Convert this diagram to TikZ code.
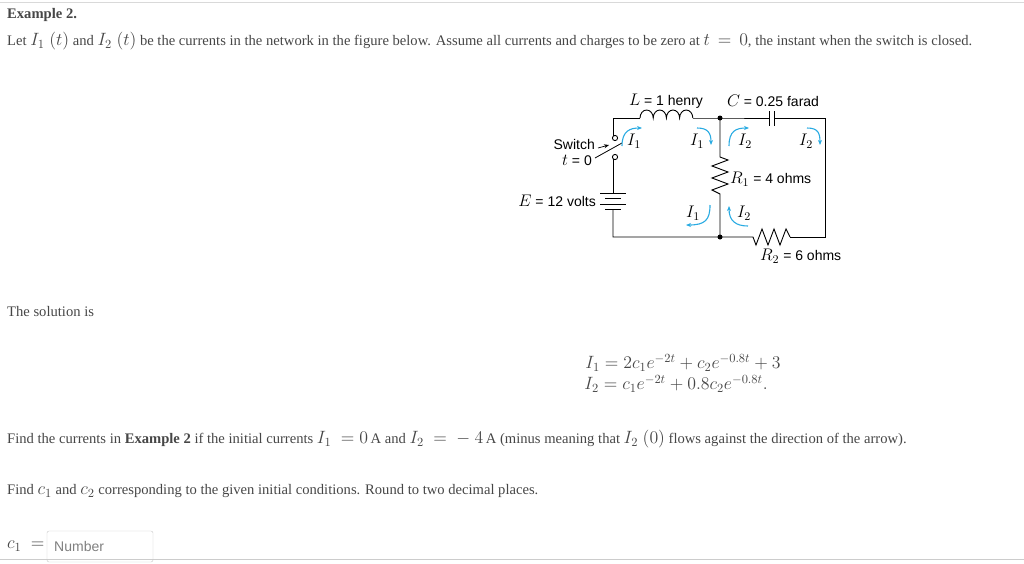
\RequirePackage{fix-cm}
\documentclass[tikz,border=0pt]{standalone}
\usepackage{fontspec}
\setmainfont{Liberation Serif}
\setsansfont{Liberation Sans}
\usetikzlibrary{arrows.meta}
\definecolor{cblue}{RGB}{41,171,226}
\definecolor{txt}{RGB}{70,70,70}
\newcommand{\mm}[1]{\scalebox{1.22}{$#1$}}
\newcommand{\cm}[1]{\scalebox{1.2}{$#1$}}
\begin{document}
\begin{tikzpicture}[x=1pt,y=-1pt,
  tx/.style={anchor=west,inner sep=0,font=\fontsize{14.6}{18}\selectfont,text=txt},
  lb/.style={inner sep=0,font=\sffamily\fontsize{14}{16}\selectfont},
  wire/.style={line width=0.9pt},
  cur/.style={cblue,line width=1.1pt,-{Stealth[length=5pt,width=4pt]}},
  dot/.style={circle,fill,inner sep=0,minimum size=5pt}]
\useasboundingbox (0,0) rectangle (1024,563);
\draw[gray!30,line width=1pt] (0,2) -- (1024,2);
\draw[gray!40,line width=1pt] (0,559) -- (1024,559);
% texts
\node[tx,font=\bfseries\fontsize{14.6}{18}\selectfont] (t1) at (7,15) {Example 2.};
\node[tx] (t2) at (7,41) {Let \mm{I_1\ (t)} and \mm{I_2\ (t)} be the currents in the network in the figure below. Assume all currents and charges to be zero at \mm{t\,=\,0}, the instant when the switch is closed.};
\node[tx] (t3) at (7,311) {The solution is};
\node[tx,anchor=center] (e1) at (683,363) {\mm{I_1=2c_1e^{-2t}+c_2e^{-0.8t}+3}};
\node[tx,anchor=center] (e2) at (676,384) {\mm{I_2=c_1e^{-2t}+0.8c_2e^{-0.8t}.}};
\node[tx] (t4) at (7,439) {Find the currents in \textbf{Example 2} if the initial currents \mm{I_1\ =0}\,A and \mm{I_2\ =\ -\ 4}\,A (minus meaning that \mm{I_2\ (0)} flows against the direction of the arrow).};
\node[tx] (t5) at (7,491) {Find \mm{c_1} and \mm{c_2} corresponding to the given initial conditions. Round to two decimal places.};
\node[tx] (c1) at (7,546) {\mm{c_1\ =}};
\draw[gray!45,rounded corners=2pt] (47,531) rectangle (153,562);
\node[lb,anchor=west,text=gray,font=\sffamily\fontsize{14}{16}\selectfont] (nb) at (54,546) {Number};
% circuit
\coordinate (TL) at (613,118); \coordinate (TM) at (720,118); \coordinate (TR) at (825,118);
\coordinate (BL) at (613,237); \coordinate (BM) at (720,237); \coordinate (BR) at (825,237);
\draw[wire] (613,138) -- (TL) -- (640,118);
\draw[wire] (640,118) arc(180:360:6.6 and 8) arc(180:360:6.6 and 8) arc(180:360:6.6 and 8) arc(180:360:6.6 and 8);
\draw[wire] (693,118) -- (TM) -- (769,118);
\draw[wire] (769,111) -- (769,126) (774,111) -- (774,126);
\draw[wire] (774,118) -- (TR) -- (BR) -- (790,237);
\draw[wire] (790,237) -- (786,229) -- (780,245) -- (774,229) -- (768,245) -- (762,229) -- (756,245) -- (753,237) -- (BM) -- (BL) -- (613,210);
\draw[wire] (TM) -- (720,157) -- (728,160) -- (712,166) -- (728,172) -- (712,178) -- (728,184) -- (712,190) -- (720,194) -- (BM);
\node[dot] (d1) at (TM) {}; \node[dot] (d2) at (BM) {};
% battery
\draw[wire] (613,157) -- (613,193);
\draw[wire] (600,193) -- (626,193) (605,198) -- (621,198) (600,204) -- (626,204) (605,209) -- (621,209);
% switch
\draw[wire,fill=white] (615,138) circle(2.6) (615,157) circle(2.6);
\draw[line width=0.8pt] (595,158) -- (622,143);
\draw[line width=0.7pt,-{Stealth[length=5pt,width=4pt]}] (598,148) -- (609,145);
% labels
\node[lb] (lL) at (666,101) {\cm{L} = 1 henry};
\node[lb] (lC) at (773,101) {\cm{C} = 0.25 farad};
\node[lb,anchor=east] (lS) at (595,144) {Switch};
\node[lb,anchor=east] (lt) at (592,160.5) {\cm{t} = 0};
\node[lb,anchor=east] (lE) at (596,201) {\cm{E} = 12 volts};
\node[lb,anchor=west] (lR1) at (730,179) {\cm{R_1} = 4 ohms};
\node[lb,anchor=west] (lR2) at (760,256) {\cm{R_2} = 6 ohms};
\node[lb] (i1a) at (634,141) {\cm{I_1}};
\node[lb] (i1b) at (697,141) {\cm{I_1}};
\node[lb] (i2a) at (745,141) {\cm{I_2}};
\node[lb] (i2b) at (806,141) {\cm{I_2}};
\node[lb] (i1c) at (693,213) {\cm{I_1}};
\node[lb] (i2c) at (744,213) {\cm{I_2}};
% current arrows
\draw[cur] (622,146) .. controls (622,131) and (630,128) .. (642,128);
\draw[cur] (697,128) .. controls (708,128) and (711,133) .. (711,145);
\draw[cur] (729,146) .. controls (729,131) and (736,128) .. (749,128);
\draw[cur] (807,128) .. controls (818,128) and (820,133) .. (820,145);
\draw[cur] (710,205) .. controls (710,220) and (705,225) .. (686,225);
\draw[cur] (748,226) .. controls (736,226) and (729,221) .. (729,206);
\end{tikzpicture}
\end{document}
